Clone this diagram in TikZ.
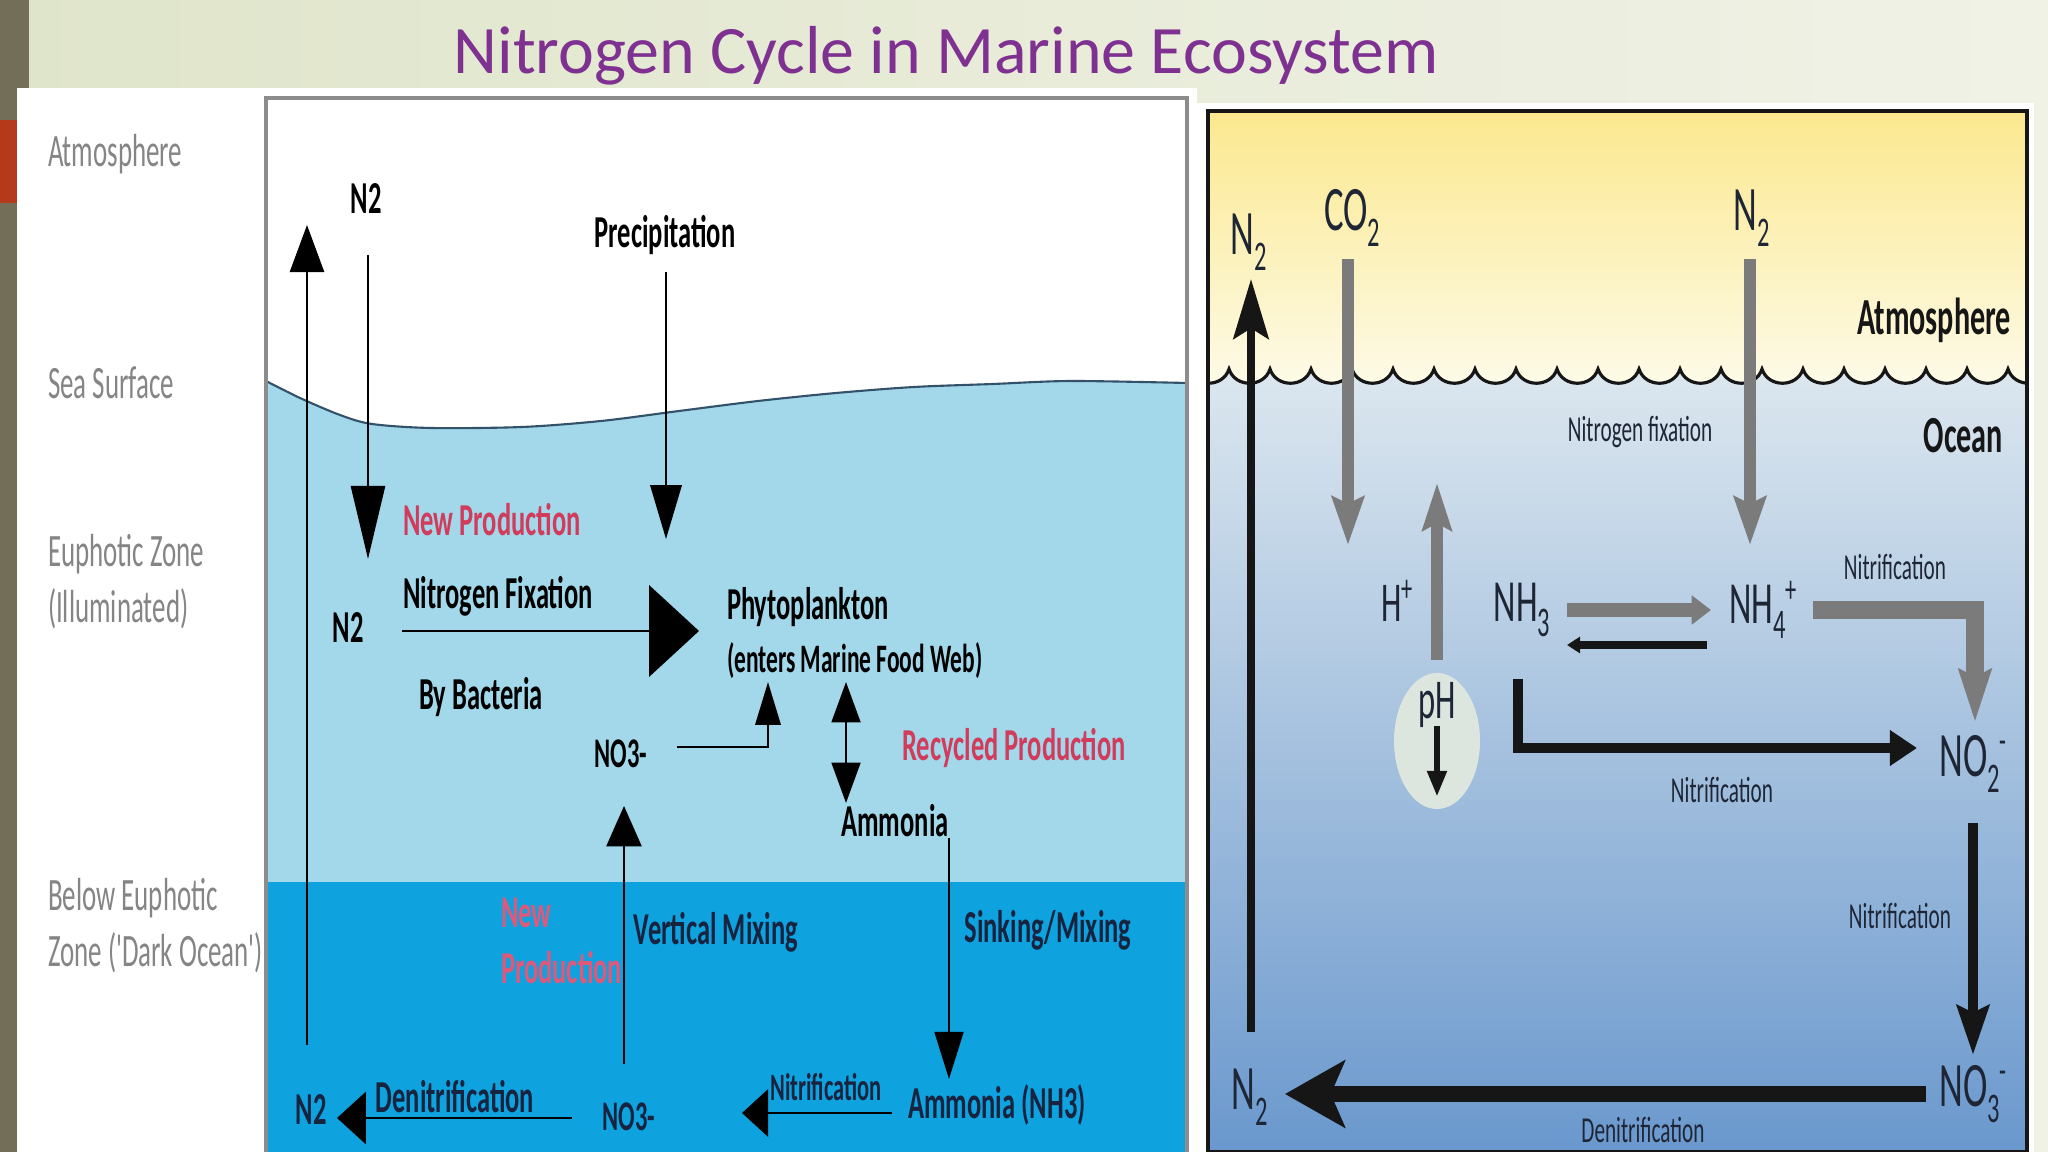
\documentclass[tikz,border=0pt]{standalone}
\usepackage{fontspec}
\setmainfont{Carlito}
\newfontfamily\cf[FakeStretch=0.58]{Carlito}
\usetikzlibrary{arrows.meta}
\definecolor{bgA}{HTML}{DFE5CA}
\definecolor{bgB}{HTML}{F0F2E6}
\definecolor{olive}{HTML}{726E57}
\definecolor{brick}{HTML}{B5391B}
\definecolor{titlec}{HTML}{7E3190}
\definecolor{sidegray}{HTML}{858585}
\definecolor{framegray}{HTML}{8C8C8C}
\definecolor{lightsea}{HTML}{A2D8EA}
\definecolor{darksea}{HTML}{0EA2DE}
\definecolor{waveline}{HTML}{33526A}
\definecolor{redlab}{HTML}{D23C5C}
\definecolor{pinklab}{HTML}{E0587A}
\definecolor{navy}{HTML}{17233F}
\definecolor{navytwo}{HTML}{1E2636}
\definecolor{skyT}{HTML}{FBE88E}
\definecolor{skyB}{HTML}{FDFBEA}
\definecolor{seaT}{HTML}{DCE7EF}
\definecolor{seaM}{HTML}{A9C7E3}
\definecolor{seaB}{HTML}{6A98CD}
\definecolor{arrgray}{HTML}{7B7B7B}
\definecolor{arrblack}{HTML}{161616}
\definecolor{phfill}{HTML}{DCE6DE}
\newcommand{\chsub}[1]{\raisebox{-0.25em}{\fontsize{12pt}{12pt}\selectfont #1}}
\newcommand{\chsup}[1]{\raisebox{0.36em}{\fontsize{11pt}{11pt}\selectfont #1}}
\tikzset{
  every node/.style={inner sep=0pt, outer sep=0pt},
  sidelab/.style={font={\cf\fontsize{13.2pt}{15.9pt}\selectfont}, text=sidegray, anchor=west, align=left},
  blab/.style={font={\cf\bfseries\fontsize{13pt}{15pt}\selectfont}, text=black},
  nlab/.style={blab, text=navy},
  rlab/.style={blab, text=redlab},
  chem/.style={font={\cf\fontsize{18pt}{18pt}\selectfont}, text=navytwo},
  smalllab/.style={font={\cf\fontsize{10.4pt}{12pt}\selectfont}, text=navytwo},
  biglab/.style={font={\cf\bfseries\fontsize{14.8pt}{16pt}\selectfont}, text=arrblack, anchor=east},
  thinline/.style={line width=0.7pt, draw=black},
  grayarr/.style={line width=3.4pt, draw=arrgray},
  blackarr/.style={line width=3pt, draw=arrblack},
}
\begin{document}
\begin{tikzpicture}[x=0.01cm, y=-0.01cm]
\useasboundingbox (0,0) rectangle (2048,1152);
% slide background
\shade[left color=bgA, right color=bgB] (0,0) rectangle (2048,1152);
\fill[olive] (0,0) rectangle (29,1152);
\fill[white] (17,88) rectangle (1197,1152);
\fill[white] (1197,103) rectangle (2034,1152);
\fill[brick] (0,120) rectangle (17,203);
\node[font={\fontsize{19.3pt}{22pt}\selectfont}, text=titlec, anchor=base] (title) at (946,74) {Nitrogen Cycle in Marine Ecosystem};

% ===== left diagram =====
\fill[white] (266,98) rectangle (1187,1152);
\fill[lightsea] plot[smooth] coordinates {(266,381) (300,398) (340,415) (372,424) (431,428) (522,427) (601,421) (679,411) (758,401) (836,393) (914,387) (993,384) (1071,381) (1187,383)} -- (1187,882) -- (266,882) -- cycle;
\fill[darksea] (266,882) rectangle (1187,1152);
\draw[waveline, line width=0.6pt] plot[smooth] coordinates {(266,381) (300,398) (340,415) (372,424) (431,428) (522,427) (601,421) (679,411) (758,401) (836,393) (914,387) (993,384) (1071,381) (1187,383)};
\draw[framegray, line width=1pt] (266,1152) -- (266,98) -- (1187,98) -- (1187,1152);

% side labels
\node[sidelab] (sAtm) at (48,154) {Atmosphere};
\node[sidelab] (sSea) at (48,383) {Sea Surface};
\node[sidelab] (sEu) at (48,582) {Euphotic Zone\\(Illuminated)};
\node[sidelab] (sBe) at (48,926) {Below Euphotic\\Zone ('Dark Ocean')};

% labels
\node[blab] (n2top) at (366,199) {N2};
\node[blab] (precip) at (665,235) {Precipitation};
\node[rlab] (newprod) at (492,520) {New Production};
\node[blab] (n2mid) at (348,628) {N2};
\node[blab] (nfix) at (498,596) {Nitrogen Fixation};
\node[blab] (bact) at (481,697) {By Bacteria};
\node[blab, anchor=west] (phyto) at (727,607) {Phytoplankton};
\node[blab, anchor=west, font={\cf\bfseries\fontsize{11.5pt}{13pt}\selectfont}] (food) at (727,661) {(enters Marine Food Web)};
\node[blab, font={\cf\bfseries\fontsize{12pt}{13pt}\selectfont}] (no3mid) at (621,754) {NO3-};
\node[rlab] (recyc) at (1014,748) {Recycled Production};
\node[blab] (ammon) at (895,821) {Ammonia};
\node[nlab] (sink) at (1048,930) {Sinking/Mixing};
\node[nlab] (vmix) at (716,932) {Vertical Mixing};
\node[blab, text=pinklab, anchor=west, align=left, font={\cf\bfseries\fontsize{13pt}{15.9pt}\selectfont}] (newprod2) at (501,941) {New\\Production};
\node[nlab] (n2bot) at (311,1110) {N2};
\node[nlab] (denit) at (455,1097) {Denitrification};
\node[nlab, font={\cf\bfseries\fontsize{12pt}{13pt}\selectfont}] (no3bot) at (629,1117) {NO3-};
\node[nlab, font={\cf\bfseries\fontsize{11pt}{13pt}\selectfont}] (nitr) at (826,1087) {Nitrification};
\node[nlab] (amnh3) at (997,1105) {Ammonia (NH3)};

% left arrows
\coordinate (n2dS) at (368,255); \coordinate (n2dE) at (368,559);
\draw[thinline, -{Triangle[length=20.8pt,width=9.7pt]}] (n2dS) -- (n2dE);
\coordinate (prS) at (666,272); \coordinate (prE) at (666,539);
\draw[thinline, -{Triangle[length=15.3pt,width=8.9pt]}] (prS) -- (prE);
\coordinate (upS) at (307,1045); \coordinate (upE) at (307,225);
\draw[thinline, -{Triangle[length=13.4pt,width=9.7pt]}] (upS) -- (upE);
\coordinate (nfS) at (402,631); \coordinate (nfE) at (699,631);
\draw[thinline, -{Triangle[length=14.2pt,width=26pt]}] (nfS) -- (nfE);
\coordinate (noS) at (677,747); \coordinate (noE) at (768,682);
\draw[thinline, -{Triangle[length=12.2pt,width=7.2pt]}] (noS) -| (noE);
\coordinate (dbA) at (846,682); \coordinate (dbB) at (846,803);
\draw[thinline, {Triangle[length=11.5pt,width=8.2pt]}-{Triangle[length=11.5pt,width=8.2pt]}] (dbA) -- (dbB);
\coordinate (skS) at (949,838); \coordinate (skE) at (949,1079);
\draw[thinline, -{Triangle[length=13.4pt,width=8.2pt]}] (skS) -- (skE);
\coordinate (vmS) at (624,1064); \coordinate (vmE) at (624,806);
\draw[thinline, -{Triangle[length=11.5pt,width=10pt]}] (vmS) -- (vmE);
\coordinate (dnS) at (572,1118); \coordinate (dnE) at (337,1118);
\draw[thinline, -{Triangle[length=8.2pt,width=14.8pt]}] (dnS) -- (dnE);
\coordinate (ntS) at (892,1113); \coordinate (ntE) at (742,1113);
\draw[thinline, -{Triangle[length=7.4pt,width=13.4pt]}] (ntS) -- (ntE);

% ===== right diagram =====
\shade[top color=skyT, bottom color=skyB] (1208,111) rectangle (2027,392);
\begin{scope}
\clip (1208,111) rectangle (2027,1152);
\shade[top color=seaT, middle color=seaM, bottom color=seaB] (1188,369) foreach \i in {1,...,21} { .. controls +(6,19) and +(-6,19) .. ++(41,0) } -- (2050,1152) -- (1188,1152) -- cycle;
\draw[arrblack, line width=0.9pt] (1188,369) foreach \i in {1,...,21} { .. controls +(6,19) and +(-6,19) .. ++(41,0) };
\end{scope}
\draw[arrblack, line width=0.9pt] (1208,111) rectangle (2027,1152);

\fill[phfill] (1437,741) ellipse [x radius=43, y radius=68];

% right labels
\node[chem] (rN2a) at (1249,242) {N\chsub{2}};
\node[chem] (rCO2) at (1352,218) {CO\chsub{2}};
\node[chem] (rN2b) at (1752,218) {N\chsub{2}};
\node[biglab] (ratm) at (2011,320) {Atmosphere};
\node[biglab] (rocean) at (2003,436) {Ocean};
\node[smalllab] (rnfix) at (1640,432) {Nitrogen fixation};
\node[chem, font={\cf\fontsize{16pt}{16pt}\selectfont}] (rH) at (1397,601) {H\chsup{+}};
\node[chem, font={\cf\fontsize{16pt}{16pt}\selectfont}] (rpH) at (1437,705) {pH};
\node[chem, font={\cf\fontsize{17pt}{17pt}\selectfont}] (rNH3) at (1522,610) {NH\chsub{3}};
\node[chem, font={\cf\fontsize{17pt}{17pt}\selectfont}] (rNH4) at (1763,610) {NH\chsub{4}\chsup{+}};
\node[smalllab] (rnit1) at (1895,567) {Nitrification};
\node[chem] (rNO2) at (1973,764) {NO\chsub{2}\chsup{-}};
\node[smalllab] (rnit2) at (1722,790) {Nitrification};
\node[smalllab] (rnit3) at (1900,916) {Nitrification};
\node[chem] (rNO3) at (1973,1094) {NO\chsub{3}\chsup{-}};
\node[chem] (rN2c) at (1250,1097) {N\chsub{2}};
\node[smalllab] (rdenit) at (1643,1130) {Denitrification};

% right arrows
\coordinate (bigS) at (1251,1032); \coordinate (bigE) at (1251,279);
\draw[arrblack, line width=2.3pt, -{Stealth[length=17pt,width=10pt,inset=3pt]}] (bigS) -- (bigE);
\coordinate (coS) at (1348,259); \coordinate (coE) at (1348,545);
\draw[grayarr, -{Stealth[length=13.7pt,width=9pt,inset=2pt]}] (coS) -- (coE);
\coordinate (nbS) at (1750,259); \coordinate (nbE) at (1750,545);
\draw[grayarr, -{Stealth[length=13.7pt,width=9pt,inset=2pt]}] (nbS) -- (nbE);
\coordinate (hS) at (1437,660); \coordinate (hE) at (1437,483);
\draw[grayarr, -{Stealth[length=13.4pt,width=8.2pt,inset=2pt]}] (hS) -- (hE);
\coordinate (e1S) at (1567,610); \coordinate (e1E) at (1711,610);
\draw[grayarr, line width=3.7pt, -{Triangle[length=5.5pt,width=8pt]}] (e1S) -- (e1E);
\coordinate (e2S) at (1707,645); \coordinate (e2E) at (1567,645);
\draw[blackarr, line width=2.3pt, -{Triangle[length=3.7pt,width=4.5pt]}] (e2S) -- (e2E);
\coordinate (glS) at (1813,610); \coordinate (glE) at (1975,722);
\draw[grayarr, line width=5.2pt, line join=miter, -{Stealth[length=14.8pt,width=9pt,inset=2pt]}] (glS) -| (glE);
\coordinate (blS) at (1518,679); \coordinate (blE) at (1917,748);
\draw[blackarr, line join=miter, -{Triangle[length=7.7pt,width=9.7pt]}] (blS) |- (blE);
\coordinate (ndS) at (1973,823); \coordinate (ndE) at (1973,1055);
\draw[blackarr, -{Stealth[length=14pt,width=9pt,inset=2pt]}] (ndS) -- (ndE);
\coordinate (dlS) at (1926,1094); \coordinate (dlE) at (1285,1094);
\draw[arrblack, line width=4.8pt, -{Stealth[length=17pt,width=19pt,inset=4pt]}] (dlS) -- (dlE);
\coordinate (phS) at (1437,726); \coordinate (phE) at (1437,797);
\draw[arrblack, line width=1.9pt, -{Triangle[length=7.4pt,width=5.2pt]}] (phS) -- (phE);
\end{tikzpicture}
\end{document}
